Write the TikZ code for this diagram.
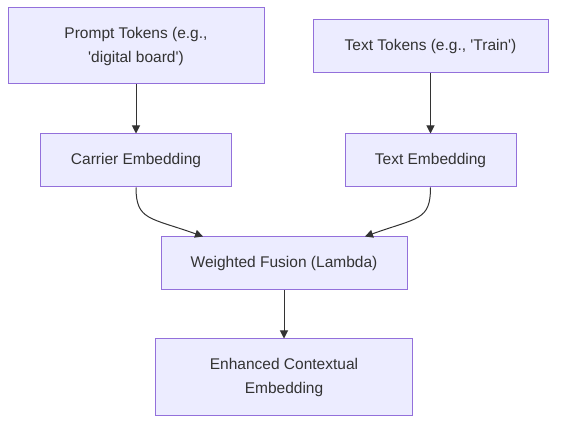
\documentclass[tikz,border=0pt]{standalone}
\usepackage{fontspec}
\setmainfont{Liberation Sans}
\usetikzlibrary{arrows.meta,calc}
\definecolor{boxfill}{HTML}{ECECFF}
\definecolor{boxline}{HTML}{9370DB}
\definecolor{txt}{HTML}{333333}
\tikzset{
  box/.style={draw=boxline, fill=boxfill, line width=1pt, text=txt, align=center,
    inner sep=0pt, font=\fontsize{15.5}{24}\selectfont},
  conn/.style={draw=txt, line width=1pt, -{Triangle[length=8pt,width=8pt]}}
}
\begin{document}
\begin{tikzpicture}[x=1pt,y=-1pt]
\useasboundingbox (0,0) rectangle (566,430);
\node[box, minimum width=256pt, minimum height=76pt] (prompt) at (136,46) {Prompt Tokens (e.g.,\\\textquotesingle digital board\textquotesingle)};
\node[box, minimum width=235pt, minimum height=53pt] (ttok) at (430.5,46) {Text Tokens (e.g., \textquotesingle Train\textquotesingle)};
\node[box, minimum width=191pt, minimum height=53pt] (carrier) at (136,160.5) {Carrier Embedding};
\node[box, minimum width=171pt, minimum height=53pt] (temb) at (430.5,160.5) {Text Embedding};
\node[box, minimum width=246pt, minimum height=53pt] (fusion) at (284,263.5) {Weighted Fusion (Lambda)};
\node[box, minimum width=257pt, minimum height=77pt] (enh) at (284,377.5) {Enhanced Contextual\\Embedding};
\coordinate (fa) at ($(fusion.north)+(-81,0)$);
\coordinate (fb) at ($(fusion.north)+(81,0)$);
\draw[conn] (prompt.south) -- (carrier.north);
\draw[conn] (ttok.south) -- (temb.north);
\draw[conn] (carrier.south) .. controls +(0,33) and +(-53,-19) .. (fa);
\draw[conn] (temb.south) .. controls +(0,33) and +(53,-19) .. (fb);
\draw[conn] (fusion.south) -- (enh.north);
\end{tikzpicture}
\end{document}
